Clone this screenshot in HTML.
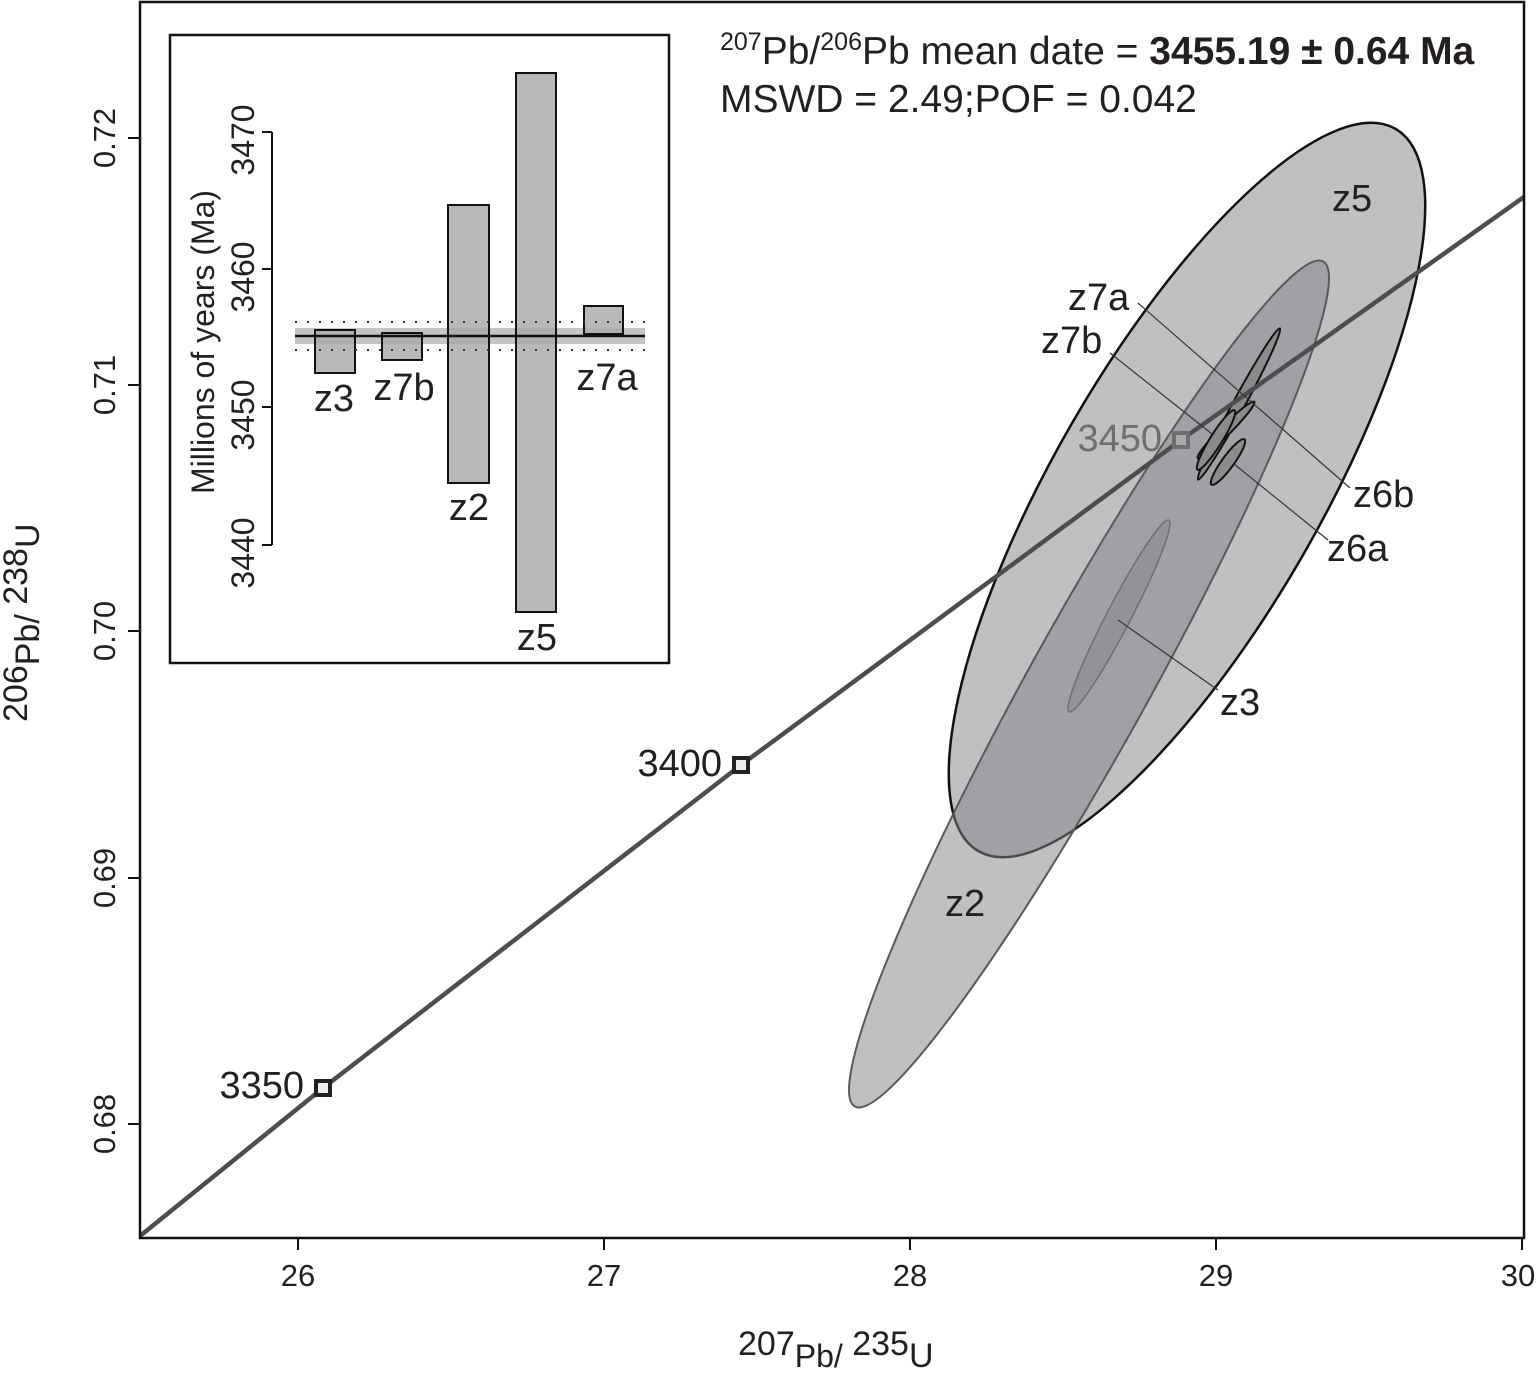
<!DOCTYPE html>
<html><head><meta charset="utf-8"><style>body{margin:0;background:#fff}svg{display:block}text{font-family:"Liberation Sans",sans-serif;fill:#231f20}</style></head><body>
<svg width="1536" height="1376" viewBox="0 0 1536 1376">
<ellipse cx="1187" cy="490" rx="417" ry="133" transform="rotate(-60 1187 490)" fill="#bfc0c2" stroke="#111" stroke-width="2.5"/>
<ellipse cx="1089" cy="684" rx="483" ry="60" transform="rotate(-61 1089 684)" fill="#808285" fill-opacity="0.5" stroke="#58595b" stroke-width="2"/>
<ellipse cx="1119" cy="616" rx="108" ry="12" transform="rotate(-62.5 1119 616)" fill="#808285" fill-opacity="0.4" stroke="#6d6e70" stroke-width="1.5"/>
<ellipse cx="1239" cy="404" rx="86" ry="6" transform="rotate(-61.6 1239 404)" fill="#8a8b8d" stroke="#111" stroke-width="2"/>
<ellipse cx="1226" cy="430" rx="40" ry="5" transform="rotate(-45 1226 430)" fill="#8a8b8d" stroke="#111" stroke-width="2"/>
<ellipse cx="1228" cy="462" rx="28" ry="6" transform="rotate(-54 1228 462)" fill="#8a8b8d" stroke="#111" stroke-width="2"/>
<ellipse cx="1216" cy="440" rx="35" ry="6" transform="rotate(-58 1216 440)" fill="#8a8b8d" stroke="#111" stroke-width="2"/>
<polyline points="140,1236 323,1088 741,765 1181,440 1524,197" fill="none" stroke="#4d4d4f" stroke-width="4.5"/>
<rect x="316" y="1081" width="14" height="14" fill="#eee" stroke="#222" stroke-width="4"/>
<rect x="734" y="758" width="14" height="14" fill="#eee" stroke="#222" stroke-width="4"/>
<rect x="1174" y="433" width="14" height="14" fill="#aaa" stroke="#6d6e70" stroke-width="4"/>
<g stroke="#333" stroke-width="1.2">
<line x1="1138" y1="303" x2="1350" y2="488"/>
<line x1="1110" y1="353" x2="1212" y2="434"/>
<line x1="1234" y1="464" x2="1328" y2="540"/>
<line x1="1118" y1="620" x2="1218" y2="690"/>
</g>
<g font-size="38">
<text x="1332" y="211">z5</text>
<text x="1068" y="310">z7a</text>
<text x="1041" y="353">z7b</text>
<text x="1162" y="451" text-anchor="end" style="fill:#6d6e70">3450</text>
<text x="1353" y="507">z6b</text>
<text x="1327" y="561">z6a</text>
<text x="1220" y="715">z3</text>
<text x="945" y="916">z2</text>
<text x="722" y="776" text-anchor="end">3400</text>
<text x="304" y="1098" text-anchor="end">3350</text>
</g>
<rect x="140" y="2" width="1384" height="1236" fill="none" stroke="#111" stroke-width="2.5"/>
<g stroke="#111" stroke-width="2">
<line x1="298" y1="1238" x2="298" y2="1250"/><line x1="604" y1="1238" x2="604" y2="1250"/><line x1="910" y1="1238" x2="910" y2="1250"/><line x1="1216" y1="1238" x2="1216" y2="1250"/><line x1="1522" y1="1238" x2="1522" y2="1250"/>
<line x1="128" y1="138" x2="140" y2="138"/><line x1="128" y1="385" x2="140" y2="385"/><line x1="128" y1="631" x2="140" y2="631"/><line x1="128" y1="878" x2="140" y2="878"/><line x1="128" y1="1124" x2="140" y2="1124"/>
</g>
<g font-size="31" text-anchor="middle">
<text x="298" y="1286">26</text><text x="604" y="1286">27</text><text x="910" y="1286">28</text><text x="1216" y="1286">29</text><text x="1518" y="1286">30</text>
<text transform="translate(115 138) rotate(-90)">0.72</text>
<text transform="translate(115 385) rotate(-90)">0.71</text>
<text transform="translate(115 631) rotate(-90)">0.70</text>
<text transform="translate(115 878) rotate(-90)">0.69</text>
<text transform="translate(115 1124) rotate(-90)">0.68</text>
</g>
<text x="738" y="1355" font-size="34">207<tspan font-size="32" dy="12">Pb/</tspan><tspan dy="-12"> 235</tspan><tspan dy="12">U</tspan></text>
<text transform="translate(27 722) rotate(-90)" font-size="34">206<tspan dy="12">Pb/</tspan><tspan dy="-12"> 238</tspan><tspan dy="12">U</tspan></text>
<text x="720" y="64" font-size="39"><tspan font-size="25" dy="-14">207</tspan><tspan dy="14">Pb/</tspan><tspan font-size="25" dy="-14">206</tspan><tspan dy="14">Pb mean date = </tspan><tspan font-weight="bold">3455.19 ± 0.64 Ma</tspan></text>
<text x="720" y="112" font-size="39">MSWD = 2.49;POF = 0.042</text>
<rect x="170" y="35" width="499" height="628" fill="#fff" stroke="#111" stroke-width="2.5"/>
<g stroke="#111" stroke-width="2">
<line x1="272" y1="132" x2="272" y2="545"/>
<line x1="262" y1="132" x2="272" y2="132"/><line x1="262" y1="269" x2="272" y2="269"/><line x1="262" y1="407" x2="272" y2="407"/><line x1="262" y1="545" x2="272" y2="545"/>
</g>
<g font-size="32" text-anchor="middle">
<text transform="translate(254 140) rotate(-90)">3470</text>
<text transform="translate(254 277) rotate(-90)">3460</text>
<text transform="translate(254 415) rotate(-90)">3450</text>
<text transform="translate(254 553) rotate(-90)">3440</text>
<text transform="translate(214 342) rotate(-90)">Millions of years (Ma)</text>
</g>
<rect x="295" y="328" width="350" height="16" fill="#c4c5c7"/>
<g fill="#a7a8aa" fill-opacity="0.8" stroke="#111" stroke-width="2">
<rect x="315" y="330" width="40" height="43"/>
<rect x="382" y="333" width="40" height="27"/>
<rect x="448" y="205" width="41" height="278"/>
<rect x="516" y="73" width="40" height="539"/>
<rect x="584" y="306" width="39" height="28"/>
</g>
<line x1="295" y1="336" x2="645" y2="336" stroke="#111" stroke-width="2.5"/>
<line x1="295" y1="322" x2="645" y2="322" stroke="#333" stroke-width="2" stroke-dasharray="2 10"/>
<line x1="295" y1="350" x2="645" y2="350" stroke="#333" stroke-width="2" stroke-dasharray="2 10"/>
<g font-size="38" text-anchor="middle">
<text x="334" y="411">z3</text><text x="404" y="400">z7b</text><text x="469" y="520">z2</text><text x="537" y="650">z5</text><text x="607" y="390">z7a</text>
</g>
</svg>
</body></html>
